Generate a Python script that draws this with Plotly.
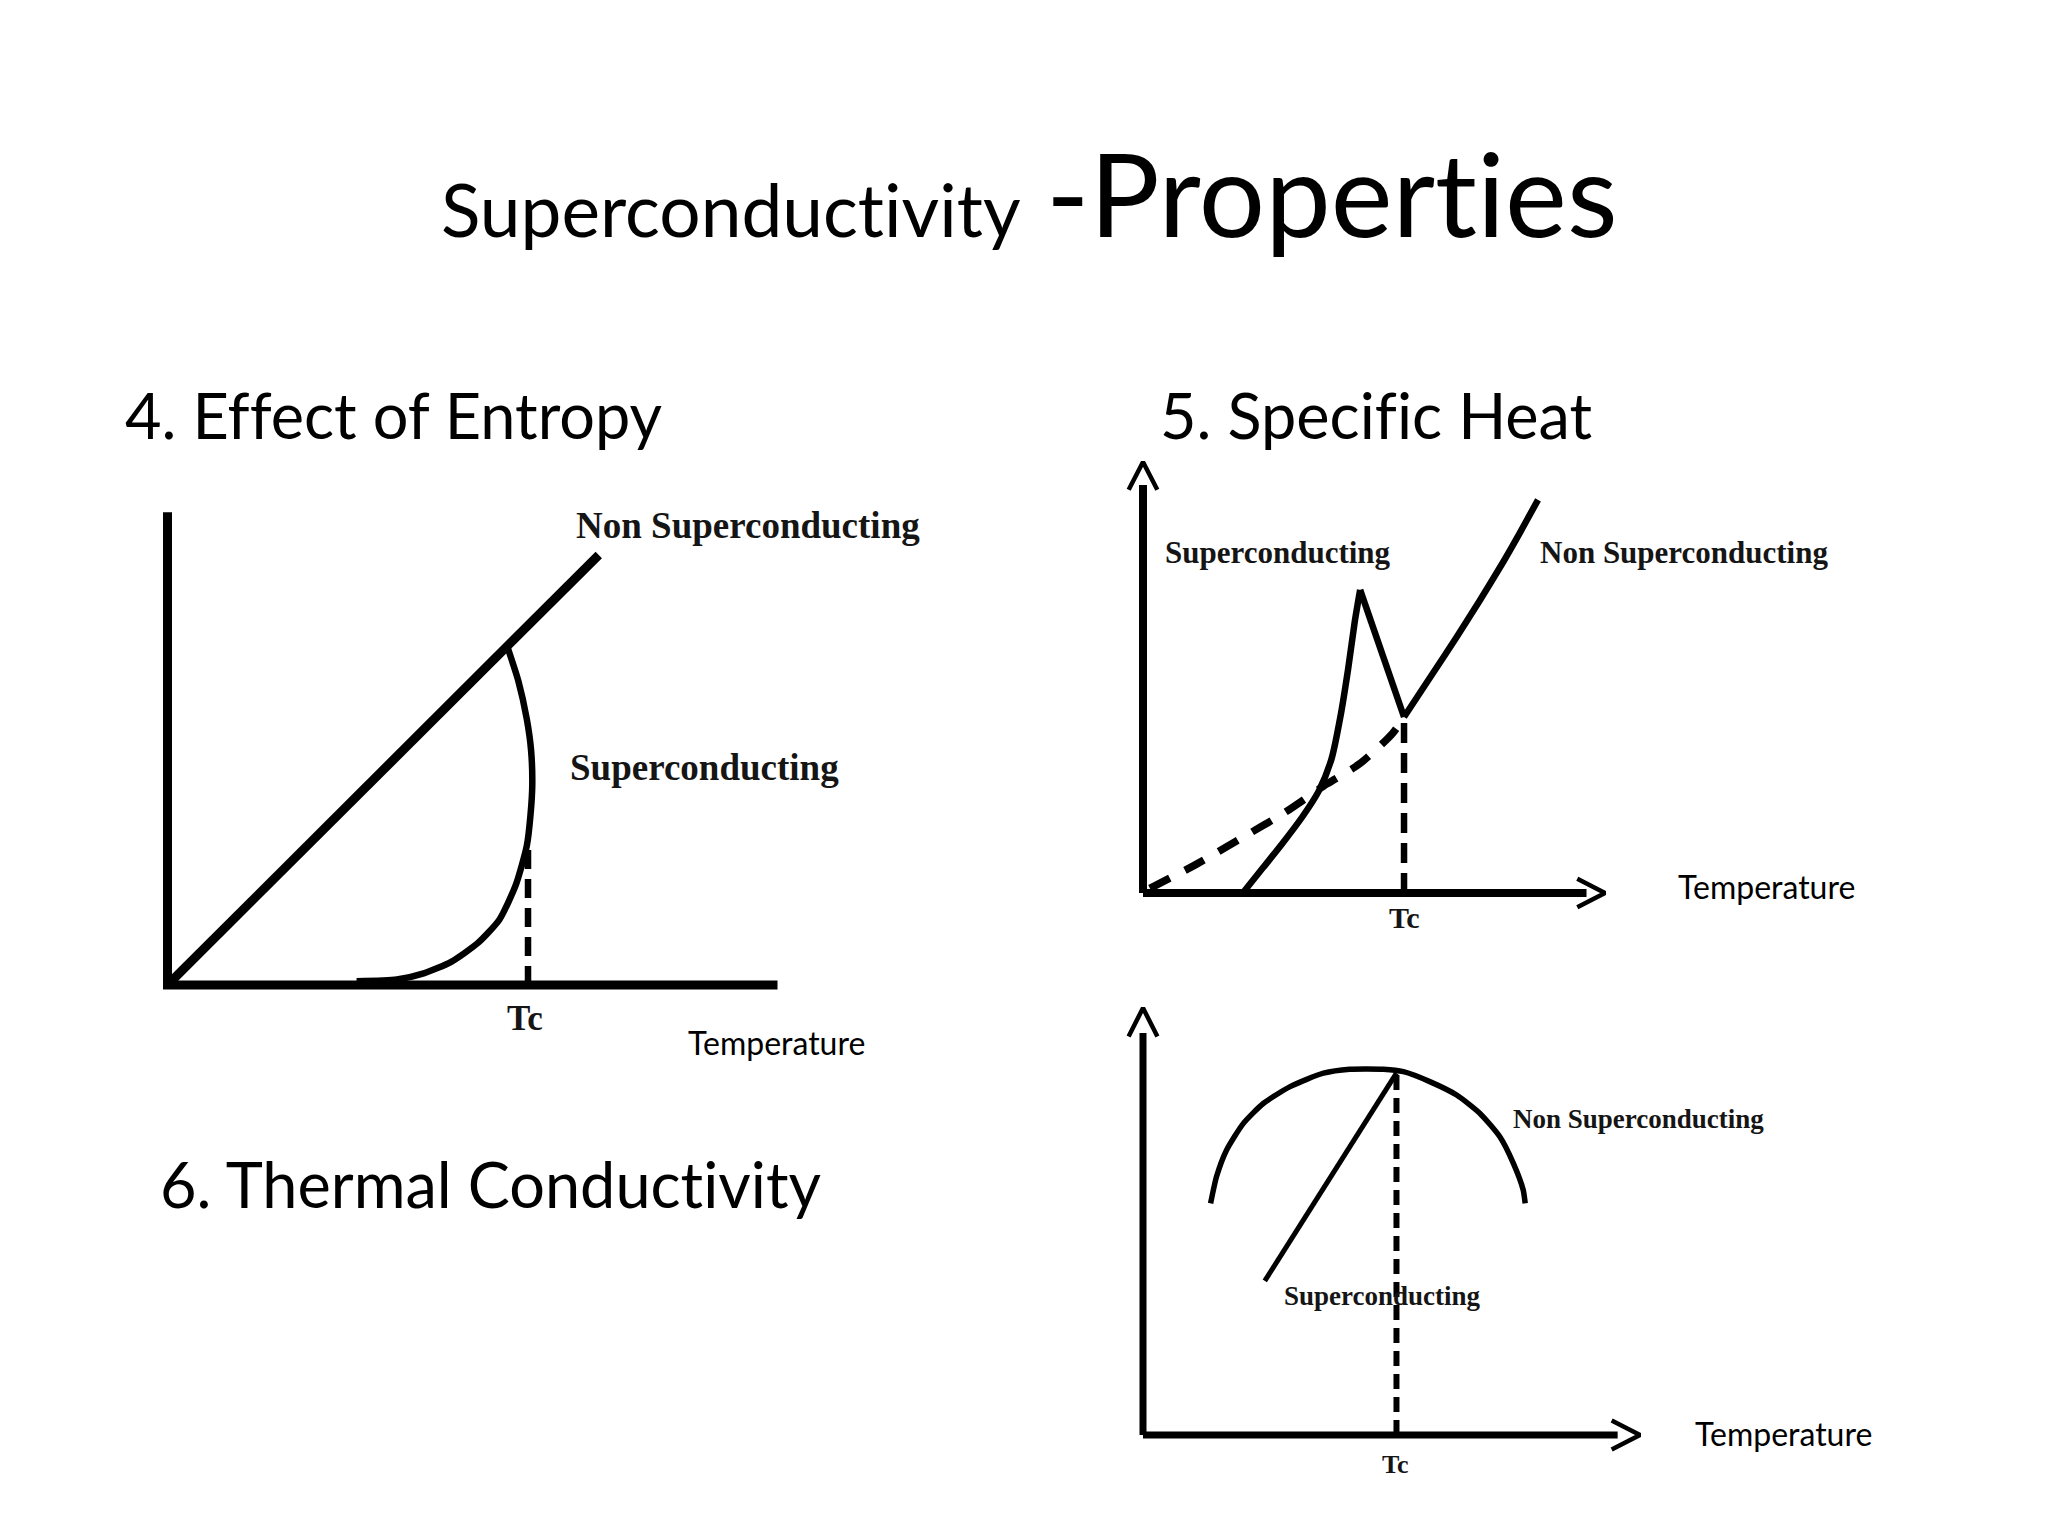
import plotly.graph_objects as go

# the page body keeps its 8px margin, so the figure is a little smaller
OFF = 8
W, H = 2048 - 2 * OFF, 1536 - 2 * OFF

# ---- 4. Effect of Entropy (temperature vs entropy, arbitrary units) ----
ent_axis_t = [0, 10]
ent_axis_s = [0, 7.75]
ent_normal_t = [0, 7.07]
ent_normal_s = [0, 7.05]
ent_super_t = [5.57, 5.75, 5.89, 5.96, 5.98, 5.95, 5.89, 5.71, 5.44, 5.09, 4.65, 4.20, 3.76, 3.10]
ent_super_s = [5.55, 4.99, 4.36, 3.85, 3.28, 2.78, 2.28, 1.64, 1.07, 0.69, 0.38, 0.19, 0.09, 0.06]
ent_tc = 5.91
ent_tc_top = 2.28

# ---- 5. Specific Heat ----
heat_axis_t = [0, 10]
heat_axis_c = [0, 9.33]
heat_tc = 5.65
heat_tc_top = 3.81
heat_normal_t = [5.65, 6.21, 6.79, 7.29, 7.80, 8.16, 8.55]
heat_normal_c = [3.81, 4.66, 5.54, 6.33, 7.17, 7.80, 8.51]
heat_extrap_t = [0.15, 1.17, 2.10, 3.05, 3.98, 4.68, 5.39, 5.65]
heat_extrap_c = [0.10, 0.63, 1.17, 1.73, 2.36, 2.79, 3.44, 3.81]
heat_super_t = [2.16, 2.60, 3.00, 3.45, 3.80, 4.08, 4.27, 4.44, 4.58, 4.70]
heat_super_c = [0.00, 0.55, 1.05, 1.65, 2.20, 2.90, 3.80, 4.85, 5.85, 6.56]
heat_jump_t = [4.70, 5.65]
heat_jump_c = [6.56, 3.81]

# ---- 6. Thermal Conductivity ----
cond_axis_t = [0, 10]
cond_axis_k = [0, 8.59]
cond_tc = 5.10
cond_tc_top = 7.28
cond_normal_t = [1.36, 1.48, 1.68, 2.02, 2.42, 2.96, 3.63, 4.16, 4.84, 5.24,
                 5.77, 6.31, 6.78, 7.18, 7.45, 7.65, 7.69]
cond_normal_k = [4.66, 5.20, 5.73, 6.27, 6.67, 7.01, 7.28, 7.36, 7.36, 7.31,
                 7.11, 6.84, 6.47, 6.00, 5.47, 4.93, 4.66]
cond_super_t = [2.45, 5.10]
cond_super_k = [3.10, 7.28]

INK = "#000000"
LABEL = "#151515"
SANS = "Lato"
SERIF = "Liberation Serif"


def plain(s):
    # keep Lato from drawing its "ti" / "fi" ligatures
    return '<span style="font-variant-ligatures:none">' + s + "</span>"


def px(x):
    return (x - OFF) / W


def py(y):
    return 1 - (y - OFF) / H


def domain(origin, unit, xr, yr):
    ox, oy = origin
    return ([px(ox + xr[0] * unit), px(ox + xr[1] * unit)],
            [py(oy - yr[0] * unit), py(oy - yr[1] * unit)])


def line(x, y, ax, width, dash="solid", shape="linear", smooth=0.7):
    return go.Scatter(x=x, y=y, mode="lines", xaxis="x" + ax, yaxis="y" + ax,
                      line=dict(color=INK, width=width, dash=dash, shape=shape, smoothing=smooth),
                      hoverinfo="skip", showlegend=False)


def chevrons(ax, x_end, y_end, head_l, head_w, width):
    # open arrow heads at the ends of both axes
    return [
        line([x_end - head_l, x_end, x_end - head_l], [head_w, 0, -head_w], ax, width),
        line([-head_w, 0, head_w], [y_end - head_l, y_end, y_end - head_l], ax, width),
    ]


fig = go.Figure()

# panel 4
fig.add_trace(line([0, 0, ent_axis_t[1]], [ent_axis_s[1], 0, 0], "", 9))
fig.add_trace(line(ent_normal_t, ent_normal_s, "", 9))
fig.add_trace(line(ent_super_t, ent_super_s, "", 6.5, shape="spline", smooth=0.6))
fig.add_trace(line([ent_tc, ent_tc], [0, ent_tc_top], "", 6.5, dash="19px,10px"))

# panel 5
fig.add_trace(line([0, 0], [0, heat_axis_c[1] - 0.5], "2", 8))
fig.add_trace(line([0, heat_axis_t[1] - 0.4], [0, 0], "2", 8))
for tr in chevrons("2", heat_axis_t[1], heat_axis_c[1], 0.6, 0.31, 4.5):
    fig.add_trace(tr)
fig.add_trace(line(heat_extrap_t, heat_extrap_c, "2", 7.5, dash="22px,17px", shape="spline"))
fig.add_trace(line(heat_normal_t, heat_normal_c, "2", 6.5, shape="spline", smooth=0.5))
fig.add_trace(line(heat_super_t, heat_super_c, "2", 6.5, shape="spline"))
fig.add_trace(line(heat_jump_t, heat_jump_c, "2", 6.5))
fig.add_trace(line([heat_tc, heat_tc], [0, heat_tc_top], "2", 6.5, dash="20px,10px"))

# panel 6
fig.add_trace(line([0, 0], [0, cond_axis_k[1] - 0.5], "3", 7))
fig.add_trace(line([0, cond_axis_t[1] - 0.45], [0, 0], "3", 7))
for tr in chevrons("3", cond_axis_t[1], cond_axis_k[1], 0.57, 0.29, 4.5):
    fig.add_trace(tr)
fig.add_trace(line(cond_normal_t, cond_normal_k, "3", 5.5, shape="spline", smooth=0.6))
fig.add_trace(line(cond_super_t, cond_super_k, "3", 5))
fig.add_trace(line([cond_tc, cond_tc], [0, cond_tc_top], "3", 6, dash="15px,8px"))

r4 = ([-0.3, 11.2], [-1.4, 8.2])
r5 = ([-0.4, 14.2], [-0.9, 9.6])
r6 = ([-0.4, 13.6], [-0.9, 9.0])
d4 = domain((167.5, 985), 61.0, *r4)
d5 = domain((1143, 893), 46.2, *r5)
d6 = domain((1143, 1435), 49.7, *r6)

hidden = dict(visible=False, fixedrange=True)
fig.update_layout(
    width=W, height=H,
    margin=dict(l=0, r=0, t=0, b=0),
    paper_bgcolor="white", plot_bgcolor="white",
    xaxis=dict(domain=d4[0], range=r4[0], anchor="y", **hidden),
    yaxis=dict(domain=d4[1], range=r4[1], anchor="x", **hidden),
    xaxis2=dict(domain=d5[0], range=r5[0], anchor="y2", **hidden),
    yaxis2=dict(domain=d5[1], range=r5[1], anchor="x2", **hidden),
    xaxis3=dict(domain=d6[0], range=r6[0], anchor="y3", **hidden),
    yaxis3=dict(domain=d6[1], range=r6[1], anchor="x3", **hidden),
)


def text(s, x, y, ax, size, family=SERIF, bold=True, color=LABEL):
    if ax is None:
        ref = dict(xref="paper", yref="paper")
        x, y = px(x), py(y)
    else:
        ref = dict(xref="x" + ax, yref="y" + ax)
    fig.add_annotation(text=s, x=x, y=y, showarrow=False, xanchor="center", yanchor="middle",
                       font=dict(family=family, size=size, color=color,
                                 weight="bold" if bold else "normal"), **ref)


# slide titles (pixel positions on the slide)
text(plain("Superconductivity"), 731, 209, None, 73, SANS, False, INK)
text(plain("-Properties"), 1332, 192, None, 117, SANS, False, INK)
text(plain("4. Effect of Entropy"), 393, 414, None, 63, SANS, False, INK)
text(plain("5. Specific Heat"), 1376, 414, None, 63, SANS, False, INK)
text(plain("6. Thermal Conductivity"), 490, 1183, None, 63, SANS, False, INK)

# panel 4 labels
text("Non Superconducting", 9.52, 7.53, "", 37)
text("Superconducting", 8.81, 3.56, "", 37)
text("Tc", 5.86, -0.55, "", 35)
text("Temperature", 9.99, -0.95, "", 32, SANS, False, INK)

# panel 5 labels
text("Superconducting", 2.92, 7.36, "2", 31)
text("Non Superconducting", 11.72, 7.36, "2", 31)
text("Tc", 5.65, -0.54, "2", 30)
text("Temperature", 13.50, 0.15, "2", 32, SANS, False, INK)

# panel 6 labels
text("Non Superconducting", 9.97, 6.36, "3", 27)
text("Superconducting", 4.81, 2.79, "3", 27)
text("Tc", 5.09, -0.60, "3", 26)
text("Temperature", 12.88, 0.04, "3", 32, SANS, False, INK)

fig.write_html("out.html")
